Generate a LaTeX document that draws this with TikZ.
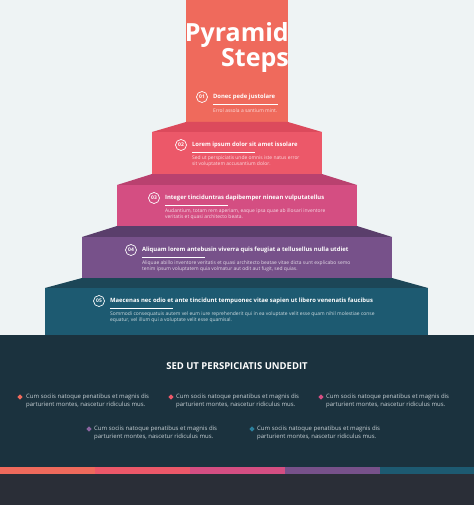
\documentclass[tikz,border=0pt]{standalone}
\usepackage{fontspec}
\setmainfont{Open Sans}
\usetikzlibrary{positioning}

\definecolor{bg_gray}{HTML}{EEF3F4}
\definecolor{step1_col}{HTML}{EF6A5C}
\definecolor{step2_top}{HTML}{DC4A5C}
\definecolor{step2_col}{HTML}{EC5869}
\definecolor{step3_top}{HTML}{B9416F}
\definecolor{step3_col}{HTML}{D44E82}
\definecolor{step4_top}{HTML}{5A3E6B}
\definecolor{step4_col}{HTML}{77518A}
\definecolor{step5_top}{HTML}{1C4657}
\definecolor{step5_col}{HTML}{1D5A71}
\definecolor{panel_col}{HTML}{1B323E}
\definecolor{footer_col}{HTML}{2A2E37}
\definecolor{bullet_text}{HTML}{C9D2D6}
\definecolor{teal_mark}{HTML}{2C7F9B}
\definecolor{purple_mark}{HTML}{8A649F}

\begin{document}
\begin{tikzpicture}[x=1pt,y=-1pt]
        \tikzstyle{num_style} = [circle, draw=white, line width=0.7, inner sep=0, minimum size=11, text=white, font=\fontsize{5}{5}\selectfont\bfseries]
        \tikzstyle{title_style} = [anchor=west, inner sep=0, text=white, font=\fontsize{5.9}{6}\selectfont\bfseries]
        \tikzstyle{body_style} = [anchor=north west, inner sep=0, text=white, text opacity=0.8, align=left, font=\fontsize{4.95}{6.6}\selectfont]
        \tikzstyle{rule_style} = [white, line width=0.4]
        \tikzstyle{big_style} = [anchor=north east, inner sep=0, text=white, align=right, font=\fontsize{25}{23}\selectfont\bfseries]
        \tikzstyle{mark_style} = [rectangle, rotate=45, inner sep=0, minimum size=3.6]
        \tikzstyle{bullet_style} = [anchor=north west, inner sep=0, text=bullet_text, align=left, font=\fontsize{6}{8.4}\selectfont]

        \useasboundingbox (0,0) rectangle (474,505);
        \fill[bg_gray] (0,0) rectangle (474,335);

        % The pyramid, step by step from the top
        \fill[step1_col] (186,0) rectangle (288,122);
        \fill[step2_top] (186,122) -- (288,122) -- (322,132) -- (152,132) -- cycle;
        \fill[step2_col] (152,132) rectangle (322,174);
        \fill[step3_top] (152,174) -- (322,174) -- (357,185) -- (117,185) -- cycle;
        \fill[step3_col] (117,185) rectangle (357,226);
        \fill[step4_top] (117,226) -- (357,226) -- (392,237) -- (82,237) -- cycle;
        \fill[step4_col] (82,237) rectangle (392,278);
        \fill[step5_top] (82,278) -- (392,278) -- (428,288) -- (45,288) -- cycle;
        \fill[step5_col] (45,288) rectangle (428,335);

        % Title on the top step
        \node[big_style] (head) at (289,22) {Pyramid\\Steps};

        % Step 01
        \node[num_style] (n1) at (202,97) {01};
        \node[title_style, right=5 of n1] (t1) {Donec pede justolare};
        \draw[rule_style] ([yshift=-4pt]t1.south west) -- ++(65,0);
        \node[body_style] (b1) at ([yshift=-8pt]t1.south west) {Errol assola a santium mint.};

        % Step 02
        \node[num_style] (n2) at (181,145) {02};
        \node[title_style, right=5 of n2] (t2) {Lorem ipsum dolor sit amet issolare};
        \draw[rule_style] ([yshift=-4pt]t2.south west) -- ++(63,0);
        \node[body_style] (b2) at ([yshift=-7pt]t2.south west) {Sed ut perspiciatis unde omnis iste natus error\\sit voluptatem accusantium dolor.};

        % Step 03
        \node[num_style] (n3) at (154,198) {03};
        \node[title_style, right=5 of n3] (t3) {Integer tinciduntras dapibemper ninean vulputatellus};
        \draw[rule_style] ([yshift=-4pt]t3.south west) -- ++(63,0);
        \node[body_style] (b3) at ([yshift=-7pt]t3.south west) {Audantium, totam rem aperiam, eaque ipsa quae ab illosari inventore\\veritatis et quasi architecto beata.};

        % Step 04
        \node[num_style] (n4) at (131,250) {04};
        \node[title_style, right=5 of n4] (t4) {Aliquam lorem antebusin viverra quis feugiat a tellusellus nulla utdiet};
        \draw[rule_style] ([yshift=-4pt]t4.south west) -- ++(63,0);
        \node[body_style] (b4) at ([yshift=-7pt]t4.south west) {Aliquae abillo inventore veritatis et quasi architecto beatae vitae dicta sunt explicabo semo\\tenim ipsum voluptatem quia volmatur aut odit aut fugit, sed quias.};

        % Step 05
        \node[num_style] (n5) at (99,301) {05};
        \node[title_style, right=5 of n5] (t5) {Maecenas nec odio et ante tincidunt tempuonec vitae sapien ut libero venenatis faucibus};
        \draw[rule_style] ([yshift=-4pt]t5.south west) -- ++(63,0);
        \node[body_style] (b5) at ([yshift=-7pt]t5.south west) {Sommodi consequatuis autem vel eum iure reprehenderit qui in ea voluptate velit esse quam nihil molestiae conse\\equatur, vel illum qui a voluptate velit esse quamisal.};

        % Dark panel at the bottom
        \fill[panel_col] (0,335) rectangle (474,467);
        \node[inner sep=0, text=white, font=\fontsize{9.5}{9.5}\selectfont\bfseries] (sed) at (237,366) {SED UT PERSPICIATIS UNDEDIT};

        \node[mark_style, fill=step1_col] (m1) at (20,397) {};
        \node[bullet_style] (p1) at (26,393.3) {Cum sociis natoque penatibus et magnis dis\\parturient montes, nascetur ridiculus mus.};
        \node[mark_style, fill=step2_col] (m2) at (171,397) {};
        \node[bullet_style] (p2) at (176,393.3) {Cum sociis natoque penatibus et magnis dis\\parturient montes, nascetur ridiculus mus.};
        \node[mark_style, fill=step3_col] (m3) at (321,397) {};
        \node[bullet_style] (p3) at (326,393.3) {Cum sociis natoque penatibus et magnis dis\\parturient montes, nascetur ridiculus mus.};
        \node[mark_style, fill=purple_mark] (m4) at (89,429) {};
        \node[bullet_style] (p4) at (94,425.3) {Cum sociis natoque penatibus et magnis dis\\parturient montes, nascetur ridiculus mus.};
        \node[mark_style, fill=teal_mark] (m5) at (252,429) {};
        \node[bullet_style] (p5) at (257,425.3) {Cum sociis natoque penatibus et magnis dis\\parturient montes, nascetur ridiculus mus.};

        % Colour strip and footer
        \fill[step1_col] (0,467) rectangle (95,474);
        \fill[step2_col] (95,467) rectangle (190,474);
        \fill[step3_col] (190,467) rectangle (285,474);
        \fill[step4_col] (285,467) rectangle (380,474);
        \fill[step5_col] (380,467) rectangle (474,474);
        \fill[footer_col] (0,474) rectangle (474,505);
\end{tikzpicture}
\end{document}
